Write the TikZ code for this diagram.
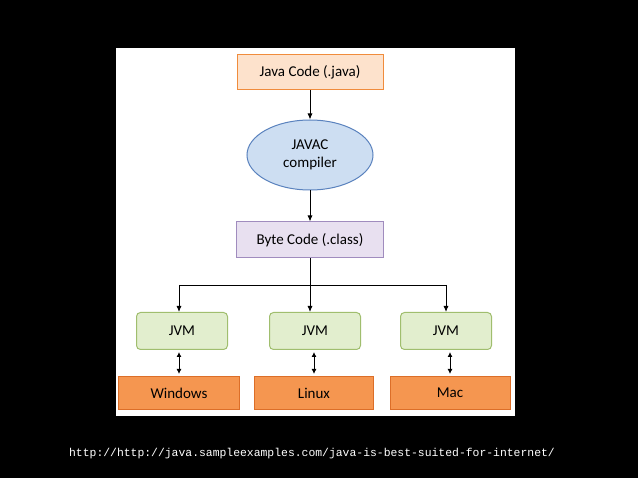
\documentclass[tikz,border=0pt]{standalone}
\usepackage{fontspec}
\setmainfont{Carlito}
\newfontfamily\urlfont{Liberation Mono}
\usetikzlibrary{shapes.geometric,arrows.meta}
\definecolor{peach}{RGB}{253,226,204}
\definecolor{orangeb}{RGB}{240,140,60}
\definecolor{lav}{RGB}{232,224,240}
\definecolor{lavb}{RGB}{160,140,190}
\definecolor{ellf}{RGB}{205,222,242}
\definecolor{ellb}{RGB}{90,130,190}
\definecolor{jvmf}{RGB}{226,238,206}
\definecolor{jvmb}{RGB}{160,190,110}
\definecolor{osf}{RGB}{245,150,80}
\definecolor{osb}{RGB}{220,110,40}
\begin{document}
\begin{tikzpicture}[x=1pt,y=-1pt,
  lbl/.style={font=\fontsize{15}{18}\selectfont,text=black},
  box/.style={lbl,draw,line width=1pt,inner sep=0pt},
  arr/.style={-{Latex[length=6pt,width=5pt]},line width=0.9pt},
  darr/.style={{Latex[length=5pt,width=5pt]}-{Latex[length=5pt,width=5pt]},line width=0.9pt}]
\fill[black] (0,0) rectangle (638,478);
\fill[white] (116,48) rectangle (515,416);
\node[box,fill=peach,draw=orangeb,minimum width=146,minimum height=35] (java) at (310,72) {Java Code (.java)};
\node[lbl,ellipse,draw=ellb,line width=1pt,fill=ellf,minimum width=126,minimum height=70,align=center] (javac) at (310,155) {JAVAC\\compiler};
\node[box,fill=lav,draw=lavb,minimum width=147,minimum height=36] (byte) at (310,240) {Byte Code (.class)};
\foreach \n/\x in {j1/182,j2/315,j3/446}
  \node[box,fill=jvmf,draw=jvmb,rounded corners=4pt,minimum width=91,minimum height=37] (\n) at (\x,331) {JVM};
\node[box,fill=osf,draw=osb,minimum width=121,minimum height=33] (o1) at (179,393) {Windows};
\node[box,fill=osf,draw=osb,minimum width=119,minimum height=33] (o2) at (314,393) {Linux};
\node[box,fill=osf,draw=osb,minimum width=120,minimum height=33] (o3) at (450,393) {Mac};
\draw[arr] (java) -- (javac);
\draw[arr] (javac) -- (byte);
\coordinate (b1) at (179,285);
\coordinate (b3) at (446,285);
\draw[line width=0.9pt] (b1) -- (b3);
\draw[arr] (byte.south) -- (byte.south |- j2.north);
\draw[arr] (b1) -- (b1 |- j1.north);
\draw[arr] (b3) -- (b3 |- j3.north);
\draw[darr] ([yshift=-2pt]j1.south -| o1) -- ([yshift=2pt]o1.north);
\draw[darr] ([yshift=-2pt]j2.south -| o2) -- ([yshift=2pt]o2.north);
\draw[darr] ([yshift=-2pt]j3.south -| o3) -- ([yshift=2pt]o3.north);
\node[text=white,font=\urlfont\fontsize{11.4}{13}\selectfont,inner sep=0pt] (url) at (312,454) {http://http://java.sampleexamples.com/java-is-best-suited-for-internet/};
\end{tikzpicture}
\end{document}
